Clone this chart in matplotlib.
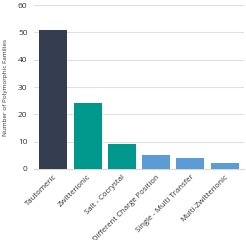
import numpy as np
import matplotlib
matplotlib.use('Agg')
import matplotlib.pyplot as plt

# ── data ─────────────────────────────────────────────────────────────────────
categories = ['Tautomeric', 'Zwitterionic', 'Salt - Cocrystal',
              'Different Charge Position', 'Single - Multi Transfer',
              'Multi-Zwitterionic']
counts = [51, 24, 9, 5, 4, 2]
colors = ['#353d50', '#00978c', '#00978c', '#5b9bd6', '#5b9bd6', '#5b9bd6']

plt.rcParams['font.family'] = ['Open Sans', 'DejaVu Sans']

fig = plt.figure(figsize=(2.46, 2.40), dpi=100)
ax = fig.add_axes([0.14, 0.296, 0.85, 0.683])

x = np.arange(len(categories))
ax.bar(x, counts, width=0.82, color=colors, zorder=3)

ax.set_ylim(0, 60)
ax.set_xlim(-0.55, len(categories) - 0.45)
ax.set_yticks(np.arange(0, 61, 10))
ax.grid(axis='y', color='#e0e0e0', linewidth=0.8, zorder=0)
for s in ('top', 'right', 'left'):
    ax.spines[s].set_visible(False)
ax.spines['bottom'].set_color('#d9d9d9')
ax.spines['bottom'].set_linewidth(0.8)
ax.tick_params(axis='y', length=0, labelsize=6, colors='#333333', pad=5)
ax.tick_params(axis='x', length=0, labelsize=5.6, colors='#333333', pad=3.5)

ax.set_xticks(x)
ax.set_xticklabels(categories, rotation=45, ha='right', rotation_mode='anchor')
ax.set_ylabel('Number of Polymorphic Families', fontsize=4.6, color='#333333')
ax.yaxis.set_label_coords(-0.125, 0.5)

fig.savefig('out.png', dpi=100)
